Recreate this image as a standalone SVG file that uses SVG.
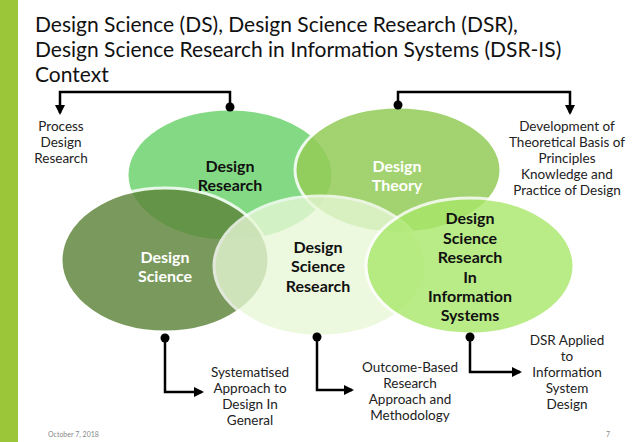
<svg xmlns="http://www.w3.org/2000/svg" width="638" height="442" viewBox="0 0 638 442">
<style>
text{font-family:Lato,"Open Sans",sans-serif}
.t{font-size:21px;fill:#111}
.l{font-size:13.5px;fill:#222;text-anchor:middle}
.n{font-size:16px;font-weight:bold;text-anchor:middle}
.c{fill:none;stroke:#000;stroke-width:2.5}
.e{stroke:#fff;stroke-width:3}
</style>
<defs>
<marker id="a" viewBox="0 0 10 10" refX="8" refY="5" markerWidth="4" markerHeight="4" orient="auto"><path d="M0,0 L10,5 L0,10 z" fill="#000"/></marker>
</defs>
<rect width="638" height="442" fill="#fff"/>
<rect x="0" y="0" width="18" height="442" fill="#9cc63a"/>
<text class="t" x="35" y="32">Design Science (DS), Design Science Research (DSR),</text>
<text class="t" x="35" y="57">Design Science Research in Information Systems (DSR-IS)</text>
<text class="t" x="35" y="82">Context</text>
<g id="dr"><ellipse class="e" cx="230" cy="175" rx="103" ry="66" fill="#6fd46f" opacity="0.85"/></g>
<g id="dt"><ellipse class="e" cx="398" cy="170" rx="103" ry="63" fill="#94cc58" opacity="0.85"/></g>
<g id="ds"><ellipse class="e" cx="165" cy="260" rx="104" ry="72" fill="#5e853a" opacity="0.82"/></g>
<g id="dsr"><ellipse class="e" cx="320" cy="266" rx="106" ry="70" fill="#e8f8d6" opacity="0.78"/></g>
<g id="dsris"><ellipse class="e" cx="470" cy="266" rx="104" ry="68" fill="#a8e86a" opacity="0.8"/></g>
<text class="n" x="230" y="172" fill="#111">Design</text>
<text class="n" x="230" y="191" fill="#111">Research</text>
<text class="n" x="397" y="172" fill="#fff">Design</text>
<text class="n" x="397" y="191" fill="#fff">Theory</text>
<text class="n" x="165" y="263" fill="#fff">Design</text>
<text class="n" x="165" y="282" fill="#fff">Science</text>
<text class="n" x="318" y="253" fill="#111">Design</text>
<text class="n" x="318" y="272" fill="#111">Science</text>
<text class="n" x="318" y="292" fill="#111">Research</text>
<text class="n" x="470" y="224" fill="#111">Design</text>
<text class="n" x="470" y="244" fill="#111">Science</text>
<text class="n" x="470" y="263" fill="#111">Research</text>
<text class="n" x="470" y="283" fill="#111">In</text>
<text class="n" x="470" y="302" fill="#111">Information</text>
<text class="n" x="470" y="321" fill="#111">Systems</text>
<g id="connectors">
<path class="c" d="M230,107 V92 H60 V113" marker-end="url(#a)"/>
<circle cx="230" cy="107" r="4.5"/>
<path class="c" d="M398,105 V92 H570 V113" marker-end="url(#a)"/>
<circle cx="398" cy="105" r="4.5"/>
<path class="c" d="M165,338 V392 H202" marker-end="url(#a)"/>
<circle cx="165" cy="338" r="4.5"/>
<path class="c" d="M317,337 V390 H352" marker-end="url(#a)"/>
<circle cx="317" cy="337" r="4.5"/>
<path class="c" d="M470,337 V372 H520" marker-end="url(#a)"/>
<circle cx="470" cy="337" r="4.5"/>
</g>
<g class="l">
<text x="61" y="131">Process</text><text x="61" y="147">Design</text><text x="61" y="163">Research</text>
<text x="567" y="131">Development of</text><text x="567" y="147">Theoretical Basis of</text><text x="567" y="163">Principles</text><text x="567" y="179">Knowledge and</text><text x="567" y="195">Practice of Design</text>
<text x="250" y="377">Systematised</text><text x="250" y="393">Approach to</text><text x="250" y="409">Design In</text><text x="250" y="425">General</text>
<text x="410" y="372">Outcome-Based</text><text x="410" y="388">Research</text><text x="410" y="404">Approach and</text><text x="410" y="420">Methodology</text>
<text x="567" y="345">DSR Applied</text><text x="567" y="361">to</text><text x="567" y="377">Information</text><text x="567" y="393">System</text><text x="567" y="409">Design</text>
</g>
<text x="48" y="437" font-size="7" fill="#888">October 7, 2018</text>
<text x="606" y="437" font-size="7" fill="#888">7</text>
</svg>
